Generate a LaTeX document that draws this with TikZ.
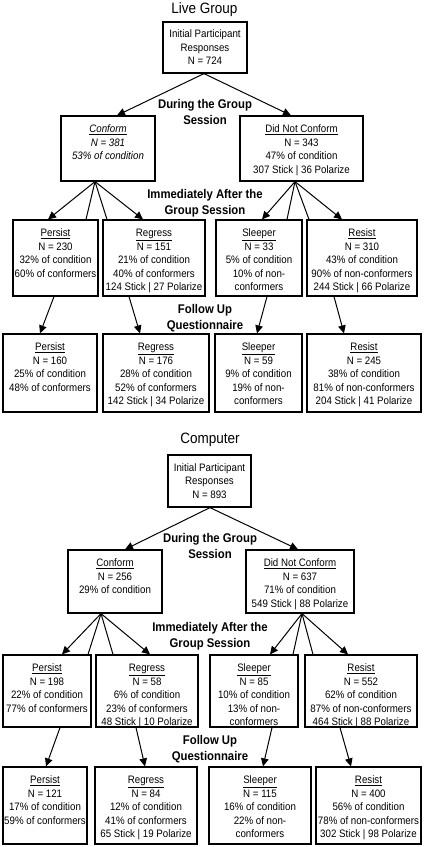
\documentclass[tikz,border=0pt]{standalone}
\usepackage{fontspec}
\setmainfont{Liberation Sans}[FakeStretch=0.9]
\usetikzlibrary{arrows.meta}
\newcommand{\bxfont}{\fontsize{10.8}{13.5}\selectfont}
\newcommand{\labfont}{\fontsize{12.6}{16}\selectfont\bfseries}
\newcommand{\ttlfont}{\fontsize{15}{17}\selectfont}
\newcommand{\bt}[3]{\parbox[c][#2pt][t]{#1pt}{\centering\vspace*{7.4pt}\strut #3}}
\newcommand{\ct}[3]{\parbox[c][#2pt][c]{#1pt}{\centering #3}}
\tikzset{
  bx/.style={draw, line width=1.2pt, inner sep=0pt, font=\bxfont},
  lab/.style={font=\labfont, align=center, inner sep=0pt},
  ttl/.style={font=\ttlfont, inner sep=0pt, anchor=base},
  arr/.style={-{Triangle[length=8pt,width=7.5pt]}, line width=1pt},
  ln/.style={line width=1pt}
}
\begin{document}
\begin{tikzpicture}[x=1pt,y=-1pt]
\useasboundingbox (0,0) rectangle (425,847);
\fill[white] (0,0) rectangle (425,847);

% ---------------- Live Group ----------------
\node[ttl] (t1) at (204.5,13) {Live Group};
\node[bx] (i1) at (205,47.5) {\ct{84}{51}{Initial Participant\\Responses\\N = 724}};
\node[lab] (l1a) at (205,112) {During the Group\\Session};
\node[bx] (c1) at (108,148.5) {\bt{94}{65}{\itshape\underline{Conform}\\N = 381\\53\% of condition}};
\node[bx] (d1) at (301.5,148.5) {\bt{123}{65}{\underline{Did Not Conform}\\N = 343\\47\% of condition\\307 Stick | 36 Polarize}};
\node[lab] (l1b) at (205,203.5) {Immediately After the\\Group Session};
\node[bx] (p1) at (55.5,258) {\bt{85}{76}{\underline{Persist}\\N = 230\\32\% of condition\\60\% of conformers}};
\node[bx] (r1) at (154,258) {\bt{102}{76}{\underline{Regress}\\N = 151\\21\% of condition\\40\% of conformers\\124 Stick | 27 Polarize}};
\node[bx] (s1) at (259,258) {\bt{86}{76}{\underline{Sleeper}\\N = 33\\5\% of condition\\10\% of non-\\conformers}};
\node[bx] (z1) at (362,258) {\bt{110}{76}{\underline{Resist}\\N = 310\\43\% of condition\\90\% of non-conformers\\244 Stick | 66 Polarize}};
\node[lab] (l1c) at (205,318) {Follow Up\\Questionnaire};
\node[bx] (p2) at (50,373) {\bt{94}{78}{\underline{Persist}\\N = 160\\25\% of condition\\48\% of conformers}};
\node[bx] (r2) at (156,373) {\bt{106}{78}{\underline{Regress}\\N = 176\\28\% of condition\\52\% of conformers\\142 Stick | 34 Polarize}};
\node[bx] (s2) at (258.5,373) {\bt{87}{78}{\underline{Sleeper}\\N = 59\\9\% of condition\\19\% of non-\\conformers}};
\node[bx] (z2) at (364,373) {\bt{114}{78}{\underline{Resist}\\N = 245\\38\% of condition\\81\% of non-conformers\\204 Stick | 41 Polarize}};

\draw[arr] ([xshift=-1pt]i1.south) -- ([xshift=9pt]c1.north);
\draw[arr] ([xshift=-1pt]i1.south) -- ([xshift=-10.5pt]d1.north);
\draw[arr] ([xshift=-13pt]c1.south) -- ([xshift=-7.5pt]p1.north);
\draw[ln]  ([xshift=-13pt]c1.south) -- ([xshift=30.5pt]p1.north);
\draw[ln]  ([xshift=-13pt]c1.south) -- ([xshift=-47pt]r1.north);
\draw[arr] ([xshift=-13pt]c1.south) -- ([xshift=-11pt]r1.north);
\draw[arr] ([xshift=-6.5pt]d1.south) -- ([xshift=3pt]s1.north);
\draw[ln]  ([xshift=-6.5pt]d1.south) -- ([xshift=28pt]s1.north);
\draw[ln]  ([xshift=-6.5pt]d1.south) -- ([xshift=-53pt]z1.north);
\draw[arr] ([xshift=-6.5pt]d1.south) -- ([xshift=-20pt]z1.north);
\draw[arr] ([xshift=-1.5pt]p1.south) -- ([xshift=-10pt]p2.north);
\draw[arr] ([xshift=-25pt]r1.south) -- ([xshift=-16pt]r2.north);
\draw[arr] ([xshift=8pt]s1.south) -- ([xshift=-1.5pt]s2.north);
\draw[arr] ([xshift=-28pt]z1.south) -- ([xshift=-20pt]z2.north);

% ---------------- Computer ----------------
\node[ttl] (t2) at (210,443) {Computer};
\node[bx] (i2) at (209.5,481) {\ct{83}{52}{Initial Participant\\Responses\\N = 893}};
\node[lab] (l2a) at (210,545.5) {During the Group\\Session};
\node[bx] (c2) at (115,581.5) {\bt{94}{63}{\underline{Conform}\\N = 256\\29\% of condition}};
\node[bx] (d2) at (300,581.5) {\bt{108}{63}{\underline{Did Not Conform}\\N = 637\\71\% of condition\\549 Stick | 88 Polarize}};
\node[lab] (l2b) at (210,636) {Immediately After the\\Group Session};
\node[bx] (p3) at (47,691) {\bt{88}{72}{\underline{Persist}\\N = 198\\22\% of condition\\77\% of conformers}};
\node[bx] (r3) at (147,691) {\bt{102}{72}{\underline{Regress}\\N = 58\\6\% of condition\\23\% of conformers\\48 Stick | 10 Polarize}};
\node[bx] (s3) at (254,691) {\bt{88}{72}{\underline{Sleeper}\\N = 85\\10\% of condition\\13\% of non-\\conformers}};
\node[bx] (z3) at (361,691) {\bt{112}{72}{\underline{Resist}\\N = 552\\62\% of condition\\87\% of non-conformers\\464 Stick | 88 Polarize}};
\node[lab] (l2c) at (210,749) {Follow Up\\Questionnaire};
\node[bx] (p4) at (45,805.5) {\bt{84}{77}{\underline{Persist}\\N = 121\\17\% of condition\\59\% of conformers}};
\node[bx] (r4) at (146,805.5) {\bt{102}{77}{\underline{Regress}\\N = 84\\12\% of condition\\41\% of conformers\\65 Stick | 19 Polarize}};
\node[bx] (s4) at (260,805.5) {\bt{102}{77}{\underline{Sleeper}\\N = 115\\16\% of condition\\22\% of non-\\conformers}};
\node[bx] (z4) at (368.5,805.5) {\bt{105}{77}{\underline{Resist}\\N = 400\\56\% of condition\\78\% of non-conformers\\302 Stick | 98 Polarize}};

\draw[arr] ([xshift=0.5pt]i2.south) -- ([xshift=10pt]c2.north);
\draw[arr] ([xshift=0.5pt]i2.south) -- ([xshift=-2pt]d2.north);
\draw[arr] ([xshift=-14pt]c2.south) -- ([xshift=15pt]p3.north);
\draw[ln]  ([xshift=-14pt]c2.south) -- ([xshift=41pt]p3.north);
\draw[ln]  ([xshift=-14pt]c2.south) -- ([xshift=-34pt]r3.north);
\draw[arr] ([xshift=-14pt]c2.south) -- ([xshift=3pt]r3.north);
\draw[arr] ([xshift=2pt]d2.south) -- ([xshift=16pt]s3.north);
\draw[ln]  ([xshift=2pt]d2.south) -- ([xshift=39pt]s3.north);
\draw[ln]  ([xshift=2pt]d2.south) -- ([xshift=-48pt]z3.north);
\draw[arr] ([xshift=2pt]d2.south) -- ([xshift=-13pt]z3.north);
\draw[arr] ([xshift=13pt]p3.south) -- ([xshift=1pt]p4.north);
\draw[arr] ([xshift=-11pt]r3.south) -- ([xshift=-1pt]r4.north);
\draw[arr] ([xshift=18pt]s3.south) -- ([xshift=3pt]s4.north);
\draw[arr] ([xshift=-21pt]z3.south) -- ([xshift=-17.5pt]z4.north);
\end{tikzpicture}
\end{document}
